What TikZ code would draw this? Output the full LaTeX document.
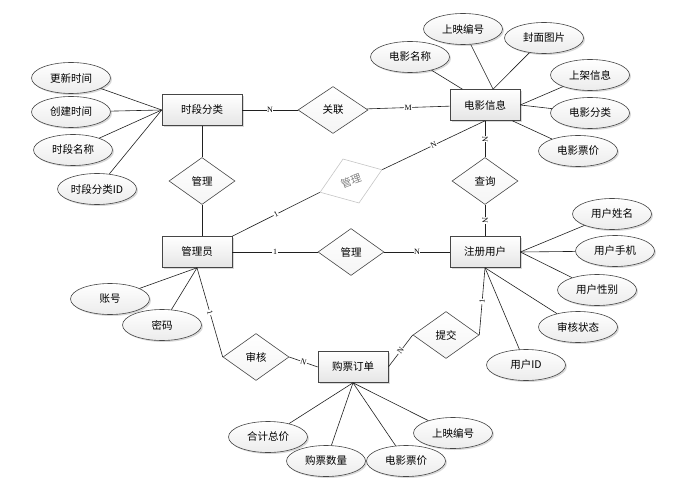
\documentclass[tikz,border=0pt]{standalone}
\usepackage{fontspec}
\setmainfont{Noto Sans CJK SC}
\newfontfamily\cardfont{Liberation Serif}
\usetikzlibrary{shapes.geometric,shadows}
\begin{document}
\begin{tikzpicture}[x=1pt,y=1pt,
  font=\fontsize{10.5}{12}\selectfont,
  entity/.style={rectangle,draw=gray!55!black,line width=0.6pt,minimum width=70pt,minimum height=31pt,
    top color=white,bottom color=gray!20,drop shadow={opacity=0.3,shadow xshift=1.5pt,shadow yshift=-1.5pt}},
  attr/.style={ellipse,draw=gray!55!black,line width=0.6pt,minimum width=79pt,minimum height=31pt,inner sep=0pt,
    top color=white,bottom color=gray!15,drop shadow={opacity=0.3,shadow xshift=1.5pt,shadow yshift=-1.5pt}},
  rel/.style={diamond,draw=gray!55!black,line width=0.6pt,minimum width=66pt,minimum height=47pt,inner sep=0pt,
    top color=white,bottom color=gray!8},
  link/.style={draw=gray!25!black,line width=0.6pt},
  card/.style={font=\cardfont\fontsize{8}{9}\selectfont,fill=white,inner sep=0.6pt}]
\useasboundingbox (0,0) rectangle (692,-494);
% entities
\node[entity,minimum width=80pt] (sdfl) at (202,-110) {时段分类};
\node[entity] (dyxx) at (485,-105) {电影信息};
\node[entity] (gly) at (197,-252) {管理员};
\node[entity] (zcyh) at (485,-252) {注册用户};
\node[entity] (gpdd) at (353,-367) {购票订单};
% relations
\node[rel,minimum width=70pt] (gl) at (333,-110) {关联};
\node[rel] (gl1) at (202,-181) {管理};
\node[rel,rotate=20,draw=gray!45,text=gray,top color=white,bottom color=white] (gl2) at (351,-181) {管理};
\node[rel] (gl3) at (351,-252) {管理};
\node[rel] (cx) at (485,-181) {查询};
\node[rel] (sh) at (256,-357) {审核};
\node[rel] (tj) at (446,-335) {提交};
% attributes
\node[attr] (gxsj) at (71,-78) {更新时间};
\node[attr] (cjsj) at (71,-112) {创建时间};
\node[attr] (sdmc) at (73,-150) {时段名称};
\node[attr] (sdid) at (97,-189) {时段分类ID};
\node[attr] (dymc) at (410,-57) {电影名称};
\node[attr] (sybh) at (463,-29) {上映编号};
\node[attr] (fmtp) at (544,-38) {封面图片};
\node[attr] (sjxx) at (590,-75) {上架信息};
\node[attr] (dyfl) at (590,-113) {电影分类};
\node[attr] (dypj) at (578,-151) {电影票价};
\node[attr] (yhxm) at (612,-214) {用户姓名};
\node[attr] (yhsj) at (615,-251) {用户手机};
\node[attr] (yhxb) at (597,-290) {用户性别};
\node[attr] (shzt) at (578,-327) {审核状态};
\node[attr] (yhid) at (526,-365) {用户ID};
\node[attr] (zh) at (110,-299) {账号};
\node[attr] (mm) at (162,-325) {密码};
\node[attr] (hjzj) at (268,-437) {合计总价};
\node[attr] (gpsl) at (326,-461) {购票数量};
\node[attr] (dypjb) at (406,-461) {电影票价};
\node[attr] (sybhb) at (453,-433) {上映编号};
% attribute links
\draw[link] (sdfl.west) -- (gxsj);
\draw[link] (sdfl.west) -- (cjsj);
\draw[link] (sdfl.west) -- (sdmc);
\draw[link] (sdfl.west) -- (sdid);
\draw[link] (dyxx.145) -- (dymc);
\draw[link] (dyxx.63) -- (sybh);
\draw[link] (dyxx.63) -- (fmtp);
\draw[link] (dyxx.east) -- (sjxx);
\draw[link] (dyxx.east) -- (dyfl);
\draw[link] (dyxx.-30) -- (dypj);
\draw[link] (zcyh.east) -- (yhxm);
\draw[link] (zcyh.east) -- (yhsj);
\draw[link] (zcyh.east) -- (yhxb);
\draw[link] (zcyh.south) -- (shzt);
\draw[link] (zcyh.south) -- (yhid);
\draw[link] (gly.south) -- (zh);
\draw[link] (gly.south) -- (mm);
\draw[link] (gpdd.south) -- (hjzj);
\draw[link] (gpdd.south) -- (gpsl);
\draw[link] (gpdd.south) -- (dypjb);
\draw[link] (gpdd.south) -- (sybhb);
% relation links
\draw[link] (sdfl) -- node[card] {N} (gl);
\draw[link] (gl) -- node[card] {M} (dyxx);
\draw[link] (sdfl.south) -- (gl1.north);
\draw[link] (gl1.south) -- (gl1.south |- gly.north);
\draw[link] (dyxx.south) -- node[card,sloped] {N} (cx.north);
\draw[link] (cx.south) -- node[card,sloped] {N} (zcyh.north);
\draw[link] (gly.north east) -- node[card,sloped] {1} (gl2.west);
\draw[link] (gl2.east) -- node[card,sloped] {N} (dyxx.south);
\draw[link] (gly) -- node[card] {1} (gl3);
\draw[link] (gl3) -- node[card] {N} (zcyh);
\draw[link] (zcyh.south) -- node[card,sloped] {1} (tj.east);
\draw[link] (tj.west) -- node[card,sloped] {N} (gpdd.east);
\draw[link] (gly.south) -- node[card,sloped] {1} (sh.west);
\draw[link] (sh.east) -- node[card,sloped] {N} (gpdd.west);
\end{tikzpicture}
\end{document}
